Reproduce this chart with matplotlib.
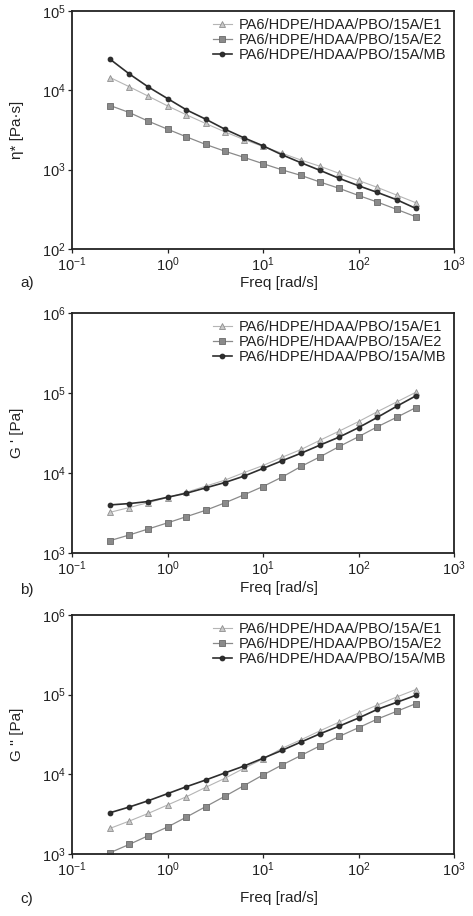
import matplotlib
matplotlib.use("Agg")
import matplotlib.pyplot as plt
import numpy as np

plt.rcParams['font.family'] = ['Liberation Sans', 'DejaVu Sans']
plt.rcParams['mathtext.fontset'] = 'custom'
plt.rcParams['mathtext.rm'] = 'Liberation Sans'
plt.rcParams['mathtext.it'] = 'Liberation Sans:italic'
plt.rcParams['mathtext.default'] = 'regular'

freq = [0.251, 0.398, 0.631, 1.0, 1.58, 2.51, 3.98, 6.31, 10.0, 15.8, 25.1,
        39.8, 63.1, 100, 158, 251, 398]

labels = ['PA6/HDPE/HDAA/PBO/15A/E1', 'PA6/HDPE/HDAA/PBO/15A/E2',
          'PA6/HDPE/HDAA/PBO/15A/MB']

eta_e1 = [14500, 11100, 8430, 6370, 4910, 3820, 3000, 2400, 1960, 1610, 1320,
          1100, 896, 731, 597, 478, 383]
eta_e2 = [6430, 5250, 4080, 3240, 2590, 2080, 1710, 1430, 1190, 995, 845,
          697, 580, 473, 390, 316, 255]
eta_mb = [24600, 16100, 11000, 7880, 5670, 4330, 3240, 2520, 2000, 1540, 1220,
          977, 775, 627, 516, 418, 325]

gp_e1 = [3230, 3700, 4270, 4930, 5750, 6840, 8140, 10100, 12400, 15700, 19700,
         25800, 33500, 43900, 58500, 77300, 102000]
gp_e2 = [1430, 1680, 2000, 2380, 2850, 3420, 4230, 5330, 6780, 8880, 12100,
         16000, 21500, 28400, 37900, 49700, 65600]
gp_mb = [3990, 4150, 4400, 4980, 5590, 6520, 7600, 9130, 11400, 14200, 17700,
         22400, 28200, 36900, 49700, 68200, 92000]

gpp_e1 = [2100, 2590, 3240, 4120, 5240, 6870, 8910, 11900, 15600, 21200, 27200,
          35300, 45400, 58900, 74200, 93500, 116000]
gpp_e2 = [1040, 1320, 1700, 2180, 2910, 3930, 5300, 7210, 9810, 13100, 17300,
          22900, 30000, 38500, 49500, 61800, 77100]
gpp_mb = [3300, 3890, 4670, 5720, 7000, 8490, 10400, 12700, 15900, 20000, 25500,
          32400, 40400, 50900, 65500, 80100, 98100]

panels = [
    (eta_e1, eta_e2, eta_mb, r'η* [Pa·s]', (1e2, 1e5), 'a)'),
    (gp_e1, gp_e2, gp_mb, "G ' [Pa]", (1e3, 1e6), 'b)'),
    (gpp_e1, gpp_e2, gpp_mb, "G '' [Pa]", (1e3, 1e6), 'c)'),
]

W, H = 473, 916
fig = plt.figure(figsize=(W / 100, H / 100), dpi=100)

boxes = [(72, 11, 454, 249), (72, 313, 454, 553), (72, 615, 454, 854)]
label_off = [34, 35, 44]   # pixels below axes for x label / panel tag
tag_off = [34, 37, 45]

styles = [
    dict(marker='^', ms=4.3, mfc='#c9c9c9', mec='#8f8f8f', mew=0.6,
         color='#b5b5b5', lw=0.8),
    dict(marker='s', ms=3.7, mfc='#8a8a8a', mec='#6a6a6a', mew=0.6,
         color='#8a8a8a', lw=0.9),
    dict(marker='o', ms=3.5, mfc='#2e2e2e', mec='#1e1e1e', mew=0.6,
         color='#2e2e2e', lw=1.2),
]

for (s1, s2, s3, ylab, ylim, tag), (l, t, r, b), lo, to in zip(
        panels, boxes, label_off, tag_off):
    ax = fig.add_axes([l / W, 1 - b / H, (r - l) / W, (b - t) / H])
    for ser, st, lab in zip((s1, s2, s3), styles, labels):
        ax.plot(freq, ser, label=lab, **st)
    ax.set_xscale('log')
    ax.set_yscale('log')
    ax.set_xlim(0.1, 1000)
    ax.set_ylim(*ylim)
    ax.minorticks_off()
    ax.tick_params(which='major', direction='out', length=3, width=0.9,
                   labelsize=10.5, colors='#222222', pad=1.5)
    for sp in ax.spines.values():
        sp.set_linewidth(1.3)
        sp.set_color('#222222')
    hgt = b - t
    wid = r - l
    ax.set_xlabel('Freq [rad/s]', fontsize=11, color='#222222')
    ax.xaxis.set_label_coords((279 - l) / wid, -lo / hgt)
    ax.xaxis.label.set_va('center')
    ax.set_ylabel(ylab, fontsize=11, color='#222222')
    ax.yaxis.set_label_coords((17 - l) / wid, 0.5)
    ax.yaxis.label.set_va('center')
    ax.text((20 - l) / wid, -to / hgt, tag, transform=ax.transAxes,
            fontsize=11, color='#222222', ha='left', va='center')
    leg = ax.legend(loc='upper right', frameon=False, fontsize=10.5,
                    handlelength=1.3, handletextpad=0.5, labelspacing=0.05,
                    borderaxespad=0.3, borderpad=0.2)
    for txt in leg.get_texts():
        txt.set_color('#222222')

fig.savefig('out.png', dpi=100, facecolor='white')
